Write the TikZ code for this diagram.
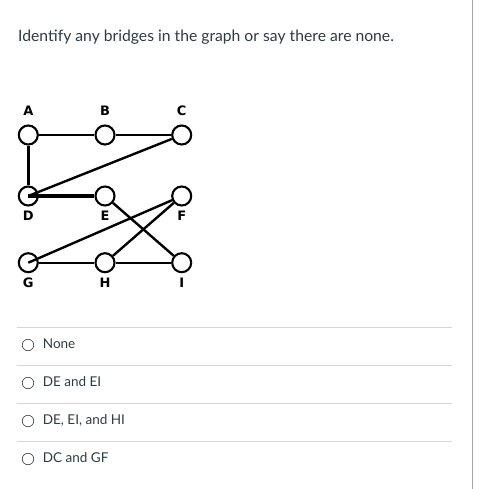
\documentclass[tikz,border=0pt]{standalone}
\usepackage{fontspec}
\setmainfont{Lato}
\newfontfamily\labelfont{DejaVu Sans}
\definecolor{canvastext}{HTML}{2D3B45}
\definecolor{rulegray}{HTML}{D6D6D6}
\definecolor{edgegray}{HTML}{A5A5A5}
\tikzset{
  vert/.style={circle,draw,line width=2.1pt,minimum size=19pt,inner sep=0pt,fill=white},
  vlabel/.style={font=\labelfont\bfseries\fontsize{13}{13}\selectfont},
  thinedge/.style={line width=1.6pt},
  edge/.style={line width=2.4pt},
  thickedge/.style={line width=4.2pt},
  radio/.style={circle,draw=canvastext,line width=0.6pt,minimum size=11.5pt,inner sep=0pt},
  choice/.style={anchor=base west,text=canvastext,font=\fontsize{13.5}{14}\selectfont,inner sep=0pt}
}
\begin{document}
\begin{tikzpicture}[x=1pt,y=-1pt,>=latex]
\useasboundingbox[fill=white] (0,0) rectangle (480,489);
\draw[edgegray,line width=1.2pt] (472.3,0) -- (472.3,489);

\node[anchor=base west,text=canvastext,font=\fontsize{15.7}{16}\selectfont,inner sep=0pt](q) at (18,41.7) {Identify any bridges in the graph or say there are none.};

\node[vert](A) at (28.3,135) {};
\node[vert](B) at (105,135) {};
\node[vert](C) at (181.7,135) {};
\node[vert](D) at (28.3,196) {};
\node[vert](E) at (105,196) {};
\node[vert](F) at (181.7,196) {};
\node[vert](G) at (28.3,262.7) {};
\node[vert](H) at (105,262.7) {};
\node[vert](I) at (181.7,262.7) {};

\node[vlabel] at (28.3,111) {A};
\node[vlabel] at (105,111) {B};
\node[vlabel] at (181.7,111) {C};
\node[vlabel] at (28.3,216) {D};
\node[vlabel] at (105,216) {E};
\node[vlabel] at (181.7,216) {F};
\node[vlabel] at (28.3,283) {G};
\node[vlabel] at (105,283) {H};
\node[vlabel] at (181.7,283) {I};

\draw[thinedge] (A) -- (B);
\draw[thinedge] (B) -- (C);
\draw[edge] (A) -- (D);
\draw[edge] (D.center) -- (C);
\draw[thickedge] (D.center) -- (E);
\draw[edge] (E) -- (I);
\draw[edge] (G.center) -- (F);
\draw[edge] (H) -- (F);
\draw[edge] (G) -- (H);
\draw[edge] (H) -- (I);

\foreach \y in {327.3,365.3,403.3,441.3}
  \draw[rulegray,line width=0.8pt] (16.7,\y) -- (451.7,\y);

\node[radio](r1) at (28,345) {};
\node[radio](r2) at (28,383) {};
\node[radio](r3) at (28,421) {};
\node[radio](r4) at (28,459) {};
\node[choice](c1) at (42.7,348.5) {None};
\node[choice](c2) at (42.7,386.5) {DE and EI};
\node[choice](c3) at (42.7,424.5) {DE, EI, and HI};
\node[choice](c4) at (42.7,462.5) {DC and GF};
\end{tikzpicture}
\end{document}
